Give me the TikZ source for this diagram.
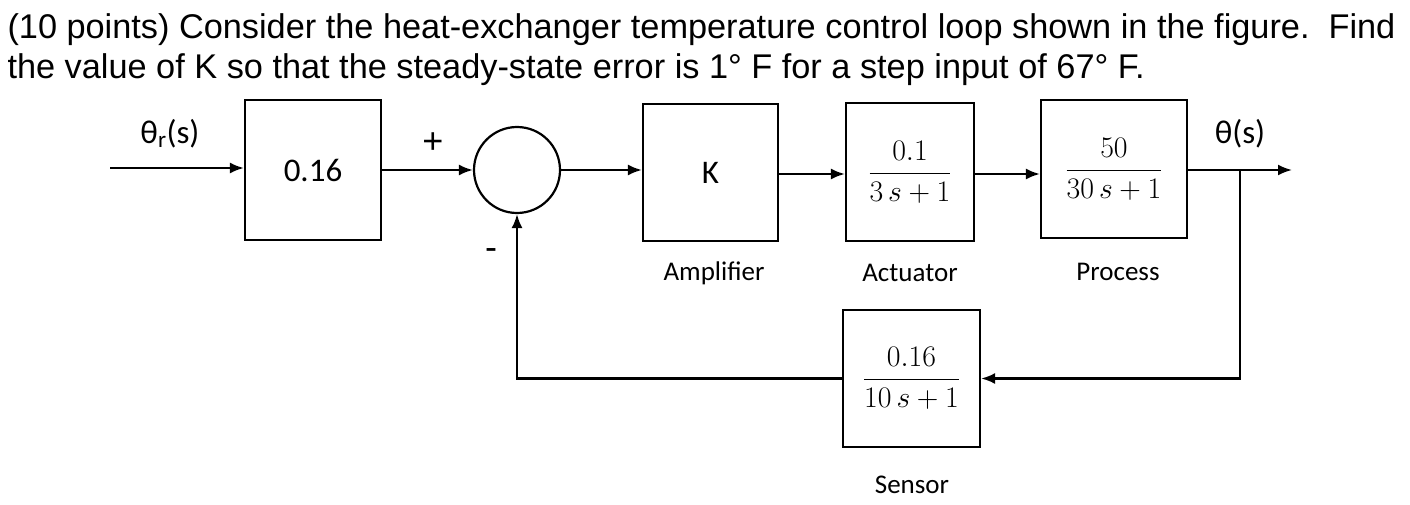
\documentclass[tikz,border=0pt]{standalone}
\usepackage{fontspec}
\setmainfont{Liberation Sans}
\newfontfamily\labfont{Carlito}
\usetikzlibrary{arrows.meta}
\begin{document}
\begin{tikzpicture}[x=1pt,y=-1pt,
  blk/.style={draw,line width=2.2pt,inner sep=0pt},
  conn/.style={line width=2.2pt,-{Latex[length=14pt,width=11pt]}},
  lab/.style={font=\labfont\fontsize{27}{30}\selectfont},
  big/.style={font=\labfont\fontsize{33}{36}\selectfont},
  frac/.style={font=\fontsize{24.88}{30}\selectfont,scale=1.2}]
\useasboundingbox (0,0) rectangle (1410,505);
\node[anchor=west,font=\fontsize{34.3}{38}\selectfont] (t1) at (4,30) {(10 points) Consider the heat-exchanger temperature control loop shown in the figure.\ \ Find};
\node[anchor=west,font=\fontsize{34.3}{38}\selectfont] (t2) at (4,70) {the value of K so that the steady-state error is 1° F for a step input of 67° F.};
\node[blk,minimum width=136pt,minimum height=140pt] (g1) at (313,170) {};
\node[big] at (g1) {0.16};
\node[draw,circle,line width=2.2pt,minimum size=86pt,inner sep=0pt] (sum) at (517,170) {};
\node[blk,minimum width=135pt,minimum height=137pt] (amp) at (710.5,172.5) {};
\node[big] at (amp) {K};
\node[blk,minimum width=128pt,minimum height=138pt] (act) at (910,172) {};
\node[frac] at (act) {$\displaystyle\frac{0.1}{3\,s+1}$};
\node[blk,minimum width=146pt,minimum height=138pt] (proc) at (1114,169) {};
\node[frac] at (proc) {$\displaystyle\frac{50}{30\,s+1}$};
\node[blk,minimum width=137pt,minimum height=137pt] (sen) at (911.5,378.5) {};
\node[frac] at (sen) {$\displaystyle\frac{0.16}{10\,s+1}$};
\node[lab] (la) at (714,273) {Amplifier};
\node[lab] (lb) at (910,273) {Actuator};
\node[lab] (lc) at (1118,272) {Process};
\node[lab] (ld) at (912,485) {Sensor};
\node[big] (in) at (170,134) {θ\textsubscript{r}(s)};
\node[big] (out) at (1240,134) {θ(s)};
\node[font=\fontsize{36}{38}\selectfont] (plus) at (433,143) {+};
\node[font=\fontsize{36}{38}\selectfont] (minus) at (491,254) {-};
\coordinate (s0) at (110,168);
\coordinate (e0) at (1292,170);
\coordinate (br) at (1240,170);
\draw[conn] (s0) -- (g1.west|-s0);
\draw[conn] (g1.east|-sum) -- (sum.west);
\draw[conn] (sum.east) -- (amp.west|-sum);
\draw[conn] (amp.east|-0,174) -- (act.west|-0,174);
\draw[conn] (act.east|-0,174) -- (proc.west|-0,174);
\draw[conn] (proc.east|-e0) -- (e0);
\draw[conn] (br) -- (br|-sen) -- (sen.east);
\draw[conn] (sen.west) -- (sum|-sen) -- (sum.south);
\end{tikzpicture}
\end{document}
